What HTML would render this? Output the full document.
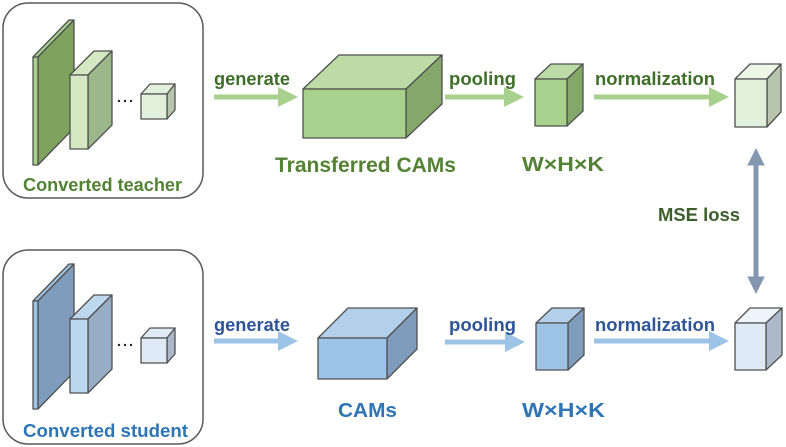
<!DOCTYPE html>
<html><head><meta charset="utf-8"><style>
html,body{margin:0;padding:0;background:#fff;width:786px;height:447px;overflow:hidden}
svg{display:block}
text{font-family:"Liberation Sans",sans-serif}
</style></head><body>
<svg width="786" height="447" viewBox="0 0 786 447" xmlns="http://www.w3.org/2000/svg">
<defs>
<marker id="ag" markerWidth="4" markerHeight="4" refX="2" refY="2" orient="auto" markerUnits="strokeWidth"><path d="M0,0 L4,2 L0,4 Z" fill="#a9d18e"/></marker>
<marker id="ab" markerWidth="4" markerHeight="4" refX="2" refY="2" orient="auto" markerUnits="strokeWidth"><path d="M0,0 L4,2 L0,4 Z" fill="#9dc3e6"/></marker>
<marker id="am" markerWidth="3.5" markerHeight="3.5" refX="1.5" refY="1.75" orient="auto" markerUnits="strokeWidth"><path d="M0,0 L3.5,1.75 L0,3.5 Z" fill="#8497b0"/></marker>
</defs>
<g stroke="#505050" stroke-width="1.3" stroke-linejoin="round">
<rect x="3" y="3" width="200" height="195" rx="25" fill="none" stroke="#595959" stroke-width="1.5"/>
<rect x="3" y="250" width="200" height="194" rx="25" fill="none" stroke="#595959" stroke-width="1.5"/>

<polygon points="33,57 69,20 74,20 38,57" fill="#a9d18e"/>
<polygon points="38,57 74,20 74,128 38,165" fill="#7fa35f"/>
<rect x="33" y="57" width="5" height="108" fill="#a9d18e"/>
<polygon points="70,75 94,51 112,51 88,75" fill="#d5e8c4"/>
<polygon points="88,75 112,51 112,125 88,149" fill="#9cb88a"/>
<rect x="70" y="75" width="18" height="74" fill="#d5e8c4"/>
<polygon points="141,94 150,84 175,84 167,94" fill="#e2efda"/>
<polygon points="167,94 175,84 175,110 167,119" fill="#b7c4ae"/>
<rect x="141" y="94" width="26" height="25" fill="#e2efda"/>

<polygon points="33,301 69,264 74,264 38,301" fill="#9dc3e6"/>
<polygon points="38,301 74,264 74,372 38,409" fill="#7f9cbd"/>
<rect x="33" y="301" width="5" height="108" fill="#9dc3e6"/>
<polygon points="70,319 94,295 112,295 88,319" fill="#bdd7ee"/>
<polygon points="88,319 112,295 112,369 88,393" fill="#97adc6"/>
<rect x="70" y="319" width="18" height="74" fill="#bdd7ee"/>
<polygon points="141,338 150,328 175,328 167,338" fill="#deebf7"/>
<polygon points="167,338 175,328 175,354 167,363" fill="#adb9ca"/>
<rect x="141" y="338" width="26" height="25" fill="#deebf7"/>

<polygon points="303,89 339,55 442,55 406,89" fill="#bcdba6"/>
<polygon points="406,89 442,55 442,104 406,138" fill="#84a86a"/>
<rect x="303" y="89" width="103" height="49" fill="#a9d18e"/>
<polygon points="535,79 551,64 583,64 567,79" fill="#bcdba6"/>
<polygon points="567,79 583,64 583,111 567,126" fill="#84a86a"/>
<rect x="535" y="79" width="32" height="47" fill="#a9d18e"/>
<polygon points="735,79 750,64 781,64 767,79" fill="#eef6e8"/>
<polygon points="767,79 781,64 781,112 767,127" fill="#b7c4ae"/>
<rect x="735" y="79" width="32" height="48" fill="#e2efda"/>

<polygon points="318,338 348,308 417,308 387,338" fill="#b4cfe9"/>
<polygon points="387,338 417,308 417,349 387,379" fill="#7f9cbd"/>
<rect x="318" y="338" width="69" height="41" fill="#9dc3e6"/>
<polygon points="536,323 552,308 584,308 568,323" fill="#b4cfe9"/>
<polygon points="568,323 584,308 584,355 568,370" fill="#7f9cbd"/>
<rect x="536" y="323" width="32" height="47" fill="#9dc3e6"/>
<polygon points="735,323 750,308 782,308 766,323" fill="#eef4fb"/>
<polygon points="766,323 782,308 782,355 766,370" fill="#adb9ca"/>
<rect x="735" y="323" width="31" height="47" fill="#deebf7"/>
</g>

<g fill="#222"><circle cx="119" cy="101" r="1.2"/><circle cx="125" cy="101" r="1.2"/><circle cx="131" cy="101" r="1.2"/>
<circle cx="119" cy="345" r="1.2"/><circle cx="125" cy="345" r="1.2"/><circle cx="131" cy="345" r="1.2"/></g>

<g stroke-width="5" fill="none">
<line x1="214" y1="97" x2="288" y2="97" stroke="#a9d18e" marker-end="url(#ag)"/>
<line x1="445" y1="97" x2="514" y2="97" stroke="#a9d18e" marker-end="url(#ag)"/>
<line x1="594" y1="97" x2="719" y2="97" stroke="#a9d18e" marker-end="url(#ag)"/>
<line x1="214" y1="341" x2="288" y2="341" stroke="#9dc3e6" marker-end="url(#ab)"/>
<line x1="445" y1="342" x2="515" y2="342" stroke="#9dc3e6" marker-end="url(#ab)"/>
<line x1="594" y1="341" x2="719" y2="341" stroke="#9dc3e6" marker-end="url(#ab)"/>
<line x1="756" y1="222" x2="756" y2="158" stroke="#8497b0" marker-end="url(#am)"/>
<line x1="756" y1="222" x2="756" y2="284" stroke="#8497b0" marker-end="url(#am)"/>
</g>

<g font-size="18" font-weight="bold" fill="#3f6e2a">
<text x="214" y="85" textLength="76" lengthAdjust="spacingAndGlyphs">generate</text>
<text x="449" y="85" textLength="67" lengthAdjust="spacingAndGlyphs">pooling</text>
<text x="595" y="85" textLength="120" lengthAdjust="spacingAndGlyphs">normalization</text>
<text x="658" y="221" fill="#3b5e2b" textLength="82" lengthAdjust="spacingAndGlyphs">MSE loss</text>
</g>
<g font-size="18" font-weight="bold" fill="#2f5597">
<text x="214" y="331" textLength="76" lengthAdjust="spacingAndGlyphs">generate</text>
<text x="449" y="331" textLength="67" lengthAdjust="spacingAndGlyphs">pooling</text>
<text x="595" y="331" textLength="120" lengthAdjust="spacingAndGlyphs">normalization</text>
</g>
<g font-size="18" font-weight="bold" fill="#548235">
<text x="23" y="191" textLength="159" lengthAdjust="spacingAndGlyphs">Converted teacher</text>
<text x="275" y="172" font-size="21" textLength="181" lengthAdjust="spacingAndGlyphs">Transferred CAMs</text>
<text x="522" y="171" font-size="20" textLength="82" lengthAdjust="spacingAndGlyphs">W×H×K</text>
</g>
<g font-size="18" font-weight="bold" fill="#2e75b6">
<text x="23" y="437" textLength="165" lengthAdjust="spacingAndGlyphs">Converted student</text>
<text x="338" y="417" font-size="20" textLength="59" lengthAdjust="spacingAndGlyphs">CAMs</text>
<text x="522" y="417" font-size="20" textLength="83" lengthAdjust="spacingAndGlyphs">W×H×K</text>
</g>
</svg>
</body></html>
